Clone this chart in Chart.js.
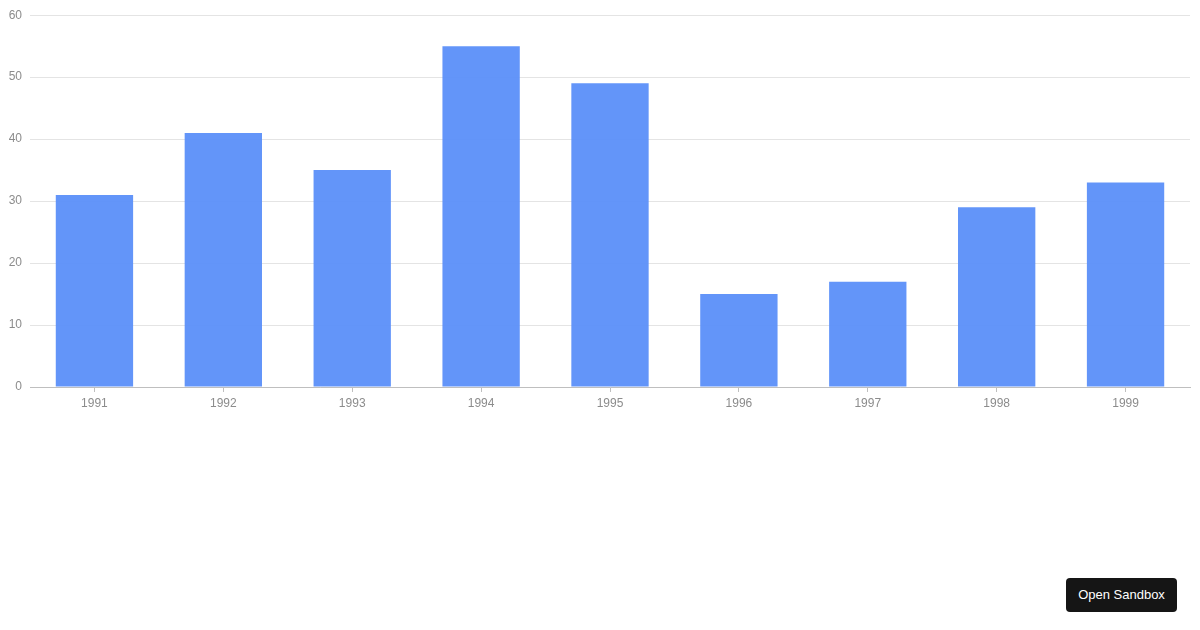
<!DOCTYPE html>
<html>
<head>
<meta charset="utf-8">
<script src="https://cdn.jsdelivr.net/npm/chart.js@4"></script>
<style>
  body { margin: 0; background: #fff; font-family: Arial, "Liberation Sans", sans-serif; }
  .wrap { position: absolute; left: 0; top: 0; width: 1200px; height: 420px; }
  .btn {
    position: absolute; left: 1066px; top: 578px; width: 111px; height: 34px;
    background: #151515; color: #fff; border-radius: 4px;
    font-size: 13px; line-height: 34px; text-align: center;
  }
</style>
</head>
<body>
<div class="wrap"><canvas id="barChart"></canvas></div>
<div class="btn">Open Sandbox</div>
<script>
const years = ["1991", "1992", "1993", "1994", "1995", "1996", "1997", "1998", "1999"];
const values = [31, 41, 35, 55, 49, 15, 17, 29, 33];
const yTicks = [0, 10, 20, 30, 40, 50, 60];

Chart.defaults.font.family = "Arial, 'Liberation Sans', sans-serif";
Chart.defaults.font.size = 12;
Chart.defaults.color = "#8c8c8c";

const ctx = document.getElementById("barChart").getContext("2d");
new Chart(ctx, {
  type: "bar",
  data: {
    labels: years,
    datasets: [
      {
        label: "value",
        data: values,
        backgroundColor: "rgba(91, 143, 249, 0.95)",
        categoryPercentage: 0.6,
        barPercentage: 1,
      },
    ],
  },
  options: {
    responsive: true,
    maintainAspectRatio: false,
    animation: false,
    layout: { padding: { top: 13, right: 10, left: 0, bottom: 0 } },
    plugins: {
      legend: { display: false },
      tooltip: { enabled: false },
    },
    scales: {
      x: {
        grid: { drawOnChartArea: false, offset: false, tickLength: 5, color: "#bfbfbf" },
        border: { color: "#bfbfbf" },
        ticks: { padding: 4 },
        afterFit: (scale) => { scale.height = 33; },
      },
      y: {
        min: 0,
        max: 60,
        afterBuildTicks: (scale) => { scale.ticks = yTicks.map((v) => ({ value: v })); },
        grid: { color: "#e4e4e4", drawTicks: false },
        border: { display: false },
        ticks: { padding: 8 },
        afterFit: (scale) => { scale.width = 30; },
      },
    },
  },
});
</script>
</body>
</html>
